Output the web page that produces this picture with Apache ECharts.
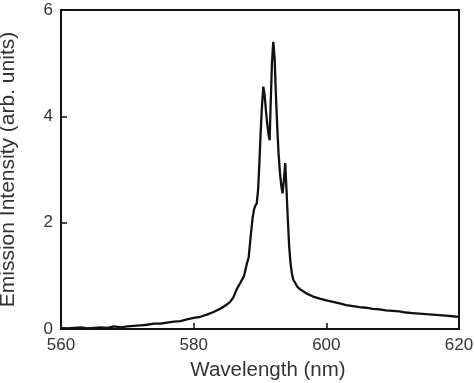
<!DOCTYPE html>
<html>
<head>
<meta charset="utf-8">
<script src="https://cdn.jsdelivr.net/npm/echarts@6/dist/echarts.min.js"></script>
<style>
html,body{margin:0;padding:0;background:#fff;}
#chart{width:474px;height:383px;}
</style>
</head>
<body>
<div id="chart"></div>
<script>
var wavelength = [560,561,562,563,564,565,566,567,568,569,570,571,572,573,574,575,576,577,578,579,580,581,582,583,584,584.5,585,585.5,586,586.5,587,587.3,587.6,588,588.3,588.6,588.9,589.1,589.3,589.5,589.7,589.9,590.1,590.3,590.5,590.7,590.9,591.1,591.3,591.45,591.6,591.8,592.0,592.2,592.4,592.6,592.8,593.0,593.2,593.4,593.6,593.8,594.0,594.2,594.4,594.6,594.8,595.0,595.3,595.6,596,596.5,597,597.5,598,599,600,601,602,603,604,605,606,607,608,609,610,611,612,613,614,615,616,617,618,619,620];
var intensity = [0.02,0.01,0.02,0.03,0.01,0.02,0.03,0.02,0.05,0.03,0.05,0.06,0.07,0.08,0.10,0.10,0.12,0.14,0.15,0.18,0.21,0.23,0.27,0.32,0.38,0.42,0.46,0.51,0.60,0.75,0.86,0.89,1.00,1.22,1.35,1.75,2.10,2.25,2.32,2.36,2.60,3.10,3.70,4.20,4.56,4.40,4.10,3.85,3.65,3.55,4.20,5.00,5.40,5.10,4.40,3.80,3.30,2.95,2.70,2.55,2.80,3.12,2.60,2.05,1.55,1.24,1.05,0.93,0.87,0.80,0.75,0.71,0.67,0.64,0.61,0.57,0.54,0.51,0.48,0.45,0.43,0.41,0.40,0.38,0.37,0.35,0.34,0.33,0.31,0.30,0.29,0.28,0.27,0.26,0.25,0.24,0.23];
var xTicks = [560,580,600,620];
var yTicks = [0,2,4,6];

var pts = wavelength.map(function(w,i){return [w,intensity[i]];});
var font = '"Liberation Sans", Arial, sans-serif';
var chart = echarts.init(document.getElementById('chart'));
chart.setOption({
  animation:false,
  grid:{left:61,right:15,top:10,bottom:54,containLabel:false,outerBoundsMode:'none',show:true,borderColor:'#111',borderWidth:2,backgroundColor:'transparent'},
  xAxis:{type:'value',min:xTicks[0],max:xTicks[xTicks.length-1],interval:20,
    name:'Wavelength (nm)',nameLocation:'middle',nameGap:31,
    nameTextStyle:{fontSize:20.5,color:'#333',fontFamily:font,padding:[0,0,0,16]},
    axisLine:{show:true,lineStyle:{color:'#111',width:2}},
    axisTick:{show:true,inside:true,length:6,lineStyle:{color:'#111',width:1.5}},
    axisLabel:{fontSize:17,color:'#333',fontFamily:font,margin:8},
    splitLine:{show:false}},
  yAxis:{type:'value',min:yTicks[0],max:yTicks[yTicks.length-1],interval:2,
    name:'Emission Intensity (arb. units)',nameLocation:'middle',nameGap:42,
    nameTextStyle:{fontSize:21,color:'#333',fontFamily:font},
    axisLine:{show:true,lineStyle:{color:'#111',width:2}},
    axisTick:{show:true,inside:true,length:6,lineStyle:{color:'#111',width:1.5}},
    axisLabel:{fontSize:17,color:'#333',fontFamily:font,margin:8},
    splitLine:{show:false}},
  series:[{type:'line',data:pts,showSymbol:false,symbol:'none',
    lineStyle:{color:'#111',width:2.3}}]
});
</script>
</body>
</html>
